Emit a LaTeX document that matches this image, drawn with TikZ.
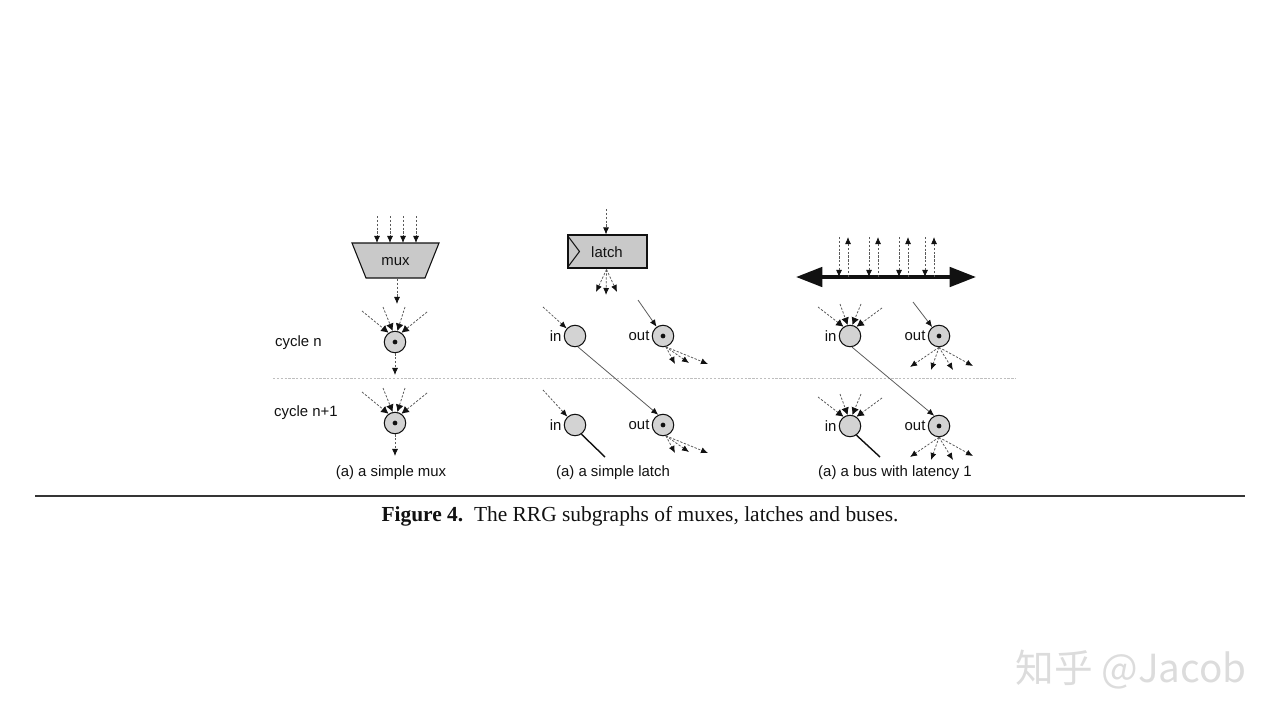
\documentclass[tikz,border=0pt]{standalone}
\usepackage{fontspec}
\setmainfont{Liberation Sans}
\newfontfamily\capfont{Liberation Serif}
\newfontfamily\cjkfont{Noto Sans CJK SC}
\usepackage{xcolor}
\usetikzlibrary{arrows.meta, positioning, calc}
\definecolor{inkOne}{HTML}{111111}
\definecolor{inkTwo}{HTML}{5A5A5A}
\definecolor{sepc}{HTML}{BEBEBE}
\definecolor{nodefill}{HTML}{D3D3D3}
\definecolor{blockfill}{HTML}{C9C9C9}
\definecolor{markc}{HTML}{DCDCDC}
\tikzset{
  rr/.style={circle, draw=inkOne, line width=0.6pt, fill=nodefill, minimum size=0.43cm, inner sep=0pt},
  rrdot/.style={rr, path picture={\fill[inkOne] (path picture bounding box.center) circle (1.35pt);}},
  lbl/.style={font=\fontsize{8.5}{10}\selectfont, text=inkOne, inner sep=0.5pt},
  dwire/.style={draw=inkTwo, line width=0.45pt, dash pattern=on 1.3pt off 0.9pt,
    -{Latex[length=4pt, width=3.4pt, color=inkOne, fill=inkOne]}},
  fanin/.style={dwire, -{Latex[length=4.2pt, width=4.4pt, color=inkOne, fill=inkOne]}},
  swire/.style={draw=inkTwo, line width=0.45pt, -{Latex[length=4pt, width=3.4pt, color=inkOne, fill=inkOne]}},
  stub/.style={draw=inkOne, line width=0.8pt},
  block/.style={draw=inkOne, line width=0.6pt, fill=blockfill},
}

\begin{document}
\begin{tikzpicture}[x=0.02cm, y=-0.02cm]
  \useasboundingbox (0,0) rectangle (1280,720);

  % row labels and separator
  \node[lbl, anchor=west] (cyc1) at (274,343) {cycle n};
  \node[lbl, anchor=west] (cyc2) at (273,413) {cycle n+1};
  \coordinate (sepL) at (273,378);
  \coordinate (sepR) at (1016,378);
  \draw[sepc, line width=0.5pt, dash pattern=on 1.3pt off 0.9pt] (sepL) -- (sepR);

  % mux column
  \coordinate (muxTL) at (352,243);
  \coordinate (muxTR) at (439,243);
  \coordinate (muxBR) at (425,278);
  \coordinate (muxBL) at (366,278);
  \draw[block] (muxTL) -- (muxTR) -- (muxBR) -- (muxBL) -- cycle;
  \node[lbl] (mux) at (395.5,262) {mux};
  \foreach \x [count=\i] in {377,390,403,416} {
    \coordinate (mi\i) at (\x,216);
    \draw[dwire] (mi\i) -- (mi\i |- muxTL);
  }
  \coordinate (muxout) at (397,279);
  \coordinate (muxend) at (397,304);
  \draw[dwire] (muxout) -- (muxend);

  \node[rrdot] (mn) at (395,342) {};
  \node[rrdot] (mn2) at (395,423) {};
  \foreach \n in {mn, mn2} {
    \foreach \dx/\dy/\a [count=\i] in {-33/-31/125, -12/-35/102, 10/-35/78, 32/-30/55} {
      \coordinate (\n f\i) at ($(\n)+(\dx,\dy)$);
      \draw[fanin] (\n f\i) -- (\n.\a);
    }
    \coordinate (\n o) at ($(\n)+(0,33)$);
    \draw[dwire] (\n) -- (\n o);
  }
  \node[lbl] (capmux) at (391,473) {(a) a simple mux};

  % latch column
  \node[block, minimum width=1.58cm, minimum height=0.66cm, inner sep=0pt] (latch) at (607.5,251.5) {};
  \draw[inkOne, line width=0.6pt] ($(latch.north west)+(0,1)$) -- ($(latch.west)+(12,0)$) -- ($(latch.south west)+(0,-1)$);
  \node[lbl] (latchtxt) at (607,252) {latch};
  \coordinate (lin0) at (606,209);
  \draw[dwire] (lin0) -- (latch.north -| lin0);
  \foreach \x/\y [count=\i] in {596/292, 606/295, 617/292} {
    \coordinate (lo\i) at (\x,\y);
    \draw[dwire] ($(latch.south)+(-1,1)$) -- (lo\i);
  }

  \node[rr] (lin) at (575,336) {};
  \node[rrdot] (lout) at (663,336) {};
  \node[rr] (lin2) at (575,425) {};
  \node[rrdot] (lout2) at (663,425) {};
  \node[lbl, left=0.6pt of lin] (linl) {in};
  \node[lbl, left=0.6pt of lout] (loutl) {out};
  \node[lbl, left=0.6pt of lin2] (lin2l) {in};
  \node[lbl, left=0.6pt of lout2] (lout2l) {out};

  \coordinate (lins) at (543,307);
  \coordinate (lin2s) at (543,390);
  \draw[dwire] (lins) -- (lin);
  \draw[dwire] (lin2s) -- (lin2);
  \coordinate (louts) at (638,300);
  \draw[swire] (louts) -- (lout);
  \draw[swire] (lin.-75) -- (lout2.115);
  \coordinate (lstub) at (605,457);
  \draw[stub] (lin2.-55) -- (lstub);
  \foreach \n in {lout, lout2} {
    \foreach \dx/\dy [count=\i] in {12/28, 26/27, 45/28} {
      \coordinate (\n e\i) at ($(\n)+(\dx,\dy)$);
      \draw[dwire] (\n.-75) -- (\n e\i);
    }
  }
  \node[lbl] (caplatch) at (613,473) {(a) a simple latch};

  % bus column
  \coordinate (busL) at (796,277);
  \coordinate (busR) at (976,277);
  \draw[inkOne, line width=2.2pt, {Triangle[length=15pt, width=11pt]}-{Triangle[length=15pt, width=11pt]}] (busL) -- (busR);
  \foreach \x [count=\i] in {839,869,899,925} {
    \coordinate (bd\i) at (\x,237);
    \coordinate (bu\i) at (\x+9,237);
    \draw[dwire] (bd\i) -- (bd\i |- busL);
    \draw[dwire] (bu\i |- busL) -- (bu\i);
  }

  \node[rr] (bin) at (850,336) {};
  \node[rrdot] (bout) at (939,336) {};
  \node[rr] (bin2) at (850,426) {};
  \node[rrdot] (bout2) at (939,426) {};
  \node[lbl, left=0.6pt of bin] (binl) {in};
  \node[lbl, left=0.6pt of bout] (boutl) {out};
  \node[lbl, left=0.6pt of bin2] (bin2l) {in};
  \node[lbl, left=0.6pt of bout2] (bout2l) {out};

  \foreach \n in {bin, bin2} {
    \foreach \dx/\dy/\a [count=\i] in {-32/-29/125, -10/-32/102, 11/-32/78, 32/-28/55} {
      \coordinate (\n f\i) at ($(\n)+(\dx,\dy)$);
      \draw[fanin] (\n f\i) -- (\n.\a);
    }
  }
  \coordinate (bouts) at (913,302);
  \draw[swire] (bouts) -- (bout);
  \draw[swire] (bin.-80) -- (bout2.115);
  \coordinate (bstub) at (880,457);
  \draw[stub] (bin2.-55) -- (bstub);
  \foreach \n in {bout, bout2} {
    \foreach \dx/\dy [count=\i] in {-29/31, -8/34, 14/34, 34/30} {
      \coordinate (\n e\i) at ($(\n)+(\dx,\dy)$);
      \draw[dwire] (\n.south) -- (\n e\i);
    }
  }
  \node[lbl] (capbus) at (895,473) {(a) a bus with latency 1};

  % figure caption
  \coordinate (ruleL) at (35,496);
  \coordinate (ruleR) at (1245,496);
  \draw[inkOne!85, line width=0.85pt] (ruleL) -- (ruleR);
  \node[font=\capfont\fontsize{12.2}{14}\selectfont, text=inkOne] (cap) at (640,516)
    {\textbf{Figure 4.}\ \ The RRG subgraphs of muxes, latches and buses.};

  % watermark
  \node[font=\cjkfont\fontsize{22}{25}\selectfont, text=markc] (mark) at (1131,670) {知乎 @Jacob};
\end{tikzpicture}
\end{document}
